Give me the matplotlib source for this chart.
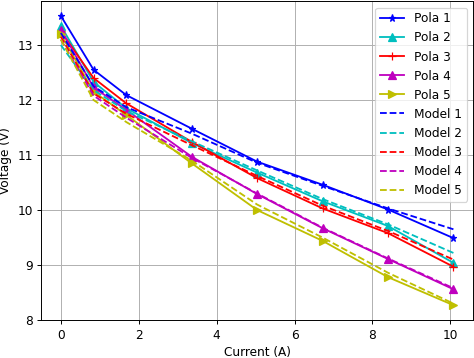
import matplotlib
matplotlib.use("Agg")
import matplotlib.pyplot as plt
import numpy as np

# current steps (A)
current = [0, 0.84, 1.68, 3.36, 5.04, 6.72, 8.4, 10.08]

# measured polarisation curves (V)
pola1 = [13.53, 12.55, 12.09, 11.48, 10.88, 10.46, 10.01, 9.49]
pola2 = [13.35, 12.33, 11.85, 11.22, 10.68, 10.16, 9.71, 9.04]
pola3 = [13.25, 12.40, 11.94, 11.24, 10.58, 10.03, 9.58, 8.97]
pola4 = [13.28, 12.23, 11.82, 10.97, 10.29, 9.67, 9.11, 8.56]
pola5 = [13.20, 12.15, 11.73, 10.85, 10.00, 9.44, 8.78, 8.27]

# model curves (V)
model1 = [13.22, 12.25, 11.87, 11.39, 10.86, 10.44, 10.03, 9.65]
model2 = [13.00, 12.18, 11.80, 11.25, 10.72, 10.20, 9.74, 9.22]
model3 = [13.15, 12.12, 11.75, 11.18, 10.62, 10.08, 9.62, 9.10]
model4 = [13.10, 12.08, 11.68, 10.95, 10.30, 9.68, 9.12, 8.58]
model5 = [13.10, 12.00, 11.60, 10.90, 10.10, 9.50, 8.86, 8.30]

pola = [pola1, pola2, pola3, pola4, pola5]
models = [model1, model2, model3, model4, model5]
colors = ["b", "c", "r", "m", "y"]
markers = ["*", "^", "+", "^", ">"]

dpi = 87.5
fig = plt.figure(figsize=(474 / dpi, 358 / dpi), dpi=dpi)
ax = fig.add_axes([0.087, 0.106, 0.911, 0.89])

for i, (v, c, m) in enumerate(zip(pola, colors, markers)):
    ax.plot(current, v, color=c, marker=m, label=f"Pola {i + 1}")
for i, (v, c) in enumerate(zip(models, colors)):
    ax.plot(current, v, color=c, linestyle="--", label=f"Model {i + 1}")

ax.set_xlabel("Current (A)")
ax.set_ylabel("Voltage (V)")
ax.set_yticks([8, 9, 10, 11, 12, 13])
ax.grid(True)
ax.legend(loc="upper right")

fig.savefig("out.png", dpi=dpi)
